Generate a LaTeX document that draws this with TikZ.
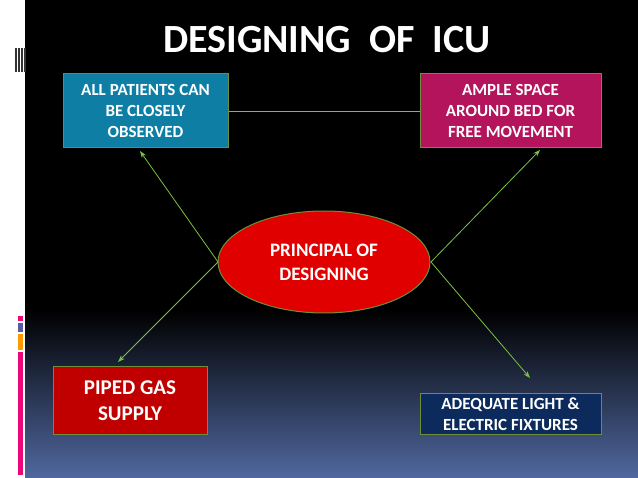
\documentclass[tikz,border=0pt]{standalone}
\usepackage{fontspec}
\setmainfont{Carlito}
\usetikzlibrary{shapes.geometric,arrows.meta}
\definecolor{teal1}{HTML}{0E7EA5}
\definecolor{mag1}{HTML}{B3145C}
\definecolor{red1}{HTML}{E00000}
\definecolor{red2}{HTML}{C00000}
\definecolor{navy1}{HTML}{0C2B5C}
\definecolor{bord}{HTML}{6E8E3A}
\definecolor{bot}{HTML}{5068A0}
\definecolor{arr}{HTML}{7CC242}
\definecolor{orl}{HTML}{E0902A}
\begin{document}
\begin{tikzpicture}[x=1pt,y=-1pt,
 box/.style={draw=bord,line width=1pt,text=white,font=\bfseries\fontsize{17}{21}\selectfont,align=center,inner sep=0pt},
 ar/.style={draw=arr,line width=0.8pt,-{Stealth[length=7pt,width=5pt]}}]
\useasboundingbox (0,0) rectangle (638,478);
\fill[white] (0,0) rectangle (638,478);
\fill[black] (25,0) rectangle (638,310);
\shade[top color=black,bottom color=bot] (25,310) rectangle (638,478);
\foreach \x in {15,18,21,24} \fill[black!80] (\x,48) rectangle (\x+1.5,72);
\fill[magenta!80!red] (18,316) rectangle (23,321);
\fill[gray!70!blue] (18,323) rectangle (23,332);
\fill[orange!80!yellow] (18,334) rectangle (23,350);
\fill[magenta!80!red] (18,352) rectangle (23,475);
\node[text=white,font=\bfseries\fontsize{40}{46}\selectfont] (title) at (327,40) {DESIGNING\ \ OF\ \ ICU};
\node[box,fill=teal1,minimum width=165pt,minimum height=74pt] (tl) at (145.5,111) {ALL PATIENTS CAN\\BE CLOSELY\\OBSERVED};
\node[box,fill=mag1,minimum width=181pt,minimum height=74pt] (tr) at (510.5,111) {AMPLE SPACE\\AROUND BED FOR\\FREE MOVEMENT};
\node[box,ellipse,fill=red1,minimum width=212pt,minimum height=102pt,font=\bfseries\fontsize{19}{24}\selectfont] (c) at (324,262) {PRINCIPAL OF\\DESIGNING};
\node[box,fill=red2,minimum width=154pt,minimum height=68pt,font=\bfseries\fontsize{21}{26}\selectfont] (bl) at (130,401) {PIPED GAS\\SUPPLY};
\node[box,fill=navy1,minimum width=181pt,minimum height=41pt] (br) at (510.5,414.5) {ADEQUATE LIGHT \&\\ELECTRIC FIXTURES};
\draw[orl,line width=0.8pt] (tl.east) -- (tr.west);
\coordinate (cl) at (218,262);
\coordinate (cr) at (431,262);
\draw[ar] (cl) -- (140,151);
\draw[ar] (cl) -- (118,362);
\draw[ar] (cr) -- (540,150);
\draw[ar] (cr) -- (530,378);
\end{tikzpicture}
\end{document}
